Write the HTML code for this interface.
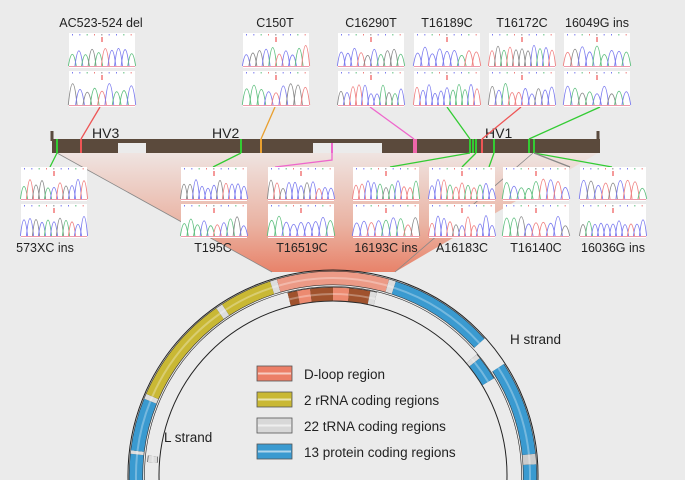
<!DOCTYPE html>
<html><head><meta charset="utf-8"><style>
html,body{margin:0;padding:0;background:#ebebeb;width:685px;height:480px;overflow:hidden;}
svg{display:block;}
text{font-family:"Liberation Sans",sans-serif;}
</style></head><body>
<svg id="s" width="685" height="480" viewBox="0 0 685 480" xmlns="http://www.w3.org/2000/svg">
<defs>
<linearGradient id="fun" x1="0" y1="0" x2="0" y2="1">
<stop offset="0" stop-color="#efe4e1"/><stop offset="0.6" stop-color="#eab3a3"/><stop offset="1" stop-color="#e8836a"/>
</linearGradient>
<clipPath id="cp"><rect width="685" height="480"/></clipPath>
</defs>
<rect width="685" height="480" fill="#ebebeb"/>
<polygon points="57,153 598,153 395,272 272,272" fill="url(#fun)"/>
<line x1="57" y1="153" x2="272" y2="272" stroke="#888" stroke-width="0.8"/>
<line x1="533" y1="153" x2="395" y2="272" stroke="#888" stroke-width="0.8"/>

<g fill="none" clip-path="url(#cp)">
<circle cx="333" cy="475" r="205" stroke="#222" stroke-width="1"/>
<circle cx="333" cy="475" r="174" stroke="#222" stroke-width="1"/>
<circle cx="333" cy="475" r="188.5" stroke="#222" stroke-width="0.6"/>
<g id="arcs"></g>
</g>

<line x1="52" y1="131" x2="52" y2="141" stroke="#5a4a3e" stroke-width="3"/>
<line x1="598" y1="131" x2="598" y2="141" stroke="#5a4a3e" stroke-width="3"/>
<rect x="52" y="139" width="548" height="14" fill="#5b4a3c"/>
<rect x="118" y="143" width="28" height="10" fill="#ebebeb"/>
<rect x="313" y="143" width="69" height="10" fill="#ebebeb"/>
<g stroke-width="2">
<line x1="57" y1="139" x2="57" y2="153" stroke="#3c3"/>
<line x1="81" y1="139" x2="81" y2="153" stroke="#e55"/>
<line x1="241" y1="139" x2="241" y2="153" stroke="#3c3"/>
<line x1="261" y1="139" x2="261" y2="153" stroke="#e9a030"/>
<line x1="332" y1="143" x2="332" y2="153" stroke="#e6c"/>
<line x1="415" y1="139" x2="415" y2="153" stroke="#e6a" stroke-width="4"/>
<line x1="470" y1="139" x2="470" y2="153" stroke="#3c3"/>
<line x1="473" y1="139" x2="473" y2="153" stroke="#3c3"/>
<line x1="476" y1="139" x2="476" y2="153" stroke="#3c3"/>
<line x1="482" y1="139" x2="482" y2="153" stroke="#e55"/>
<line x1="494" y1="139" x2="494" y2="153" stroke="#3c3"/>
<line x1="529" y1="139" x2="529" y2="153" stroke="#3c3"/>
<line x1="534" y1="139" x2="534" y2="153" stroke="#3c3"/>
</g>
<text x="92" y="138" font-size="14" fill="#222">HV3</text>
<text x="212" y="138" font-size="14" fill="#222">HV2</text>
<text x="485" y="138" font-size="14" fill="#222">HV1</text>

<g stroke-width="1.3" fill="none">
<line x1="100" y1="107" x2="81" y2="139" stroke="#e55"/>
<line x1="275" y1="107" x2="261" y2="139" stroke="#e9a030"/>
<line x1="370" y1="107" x2="414" y2="139" stroke="#e6c"/>
<line x1="447" y1="107" x2="470" y2="139" stroke="#3c3"/>
<line x1="521" y1="107" x2="482" y2="139" stroke="#e55"/>
<line x1="600" y1="107" x2="529" y2="139" stroke="#3c3"/>
<line x1="57" y1="153" x2="50" y2="167" stroke="#3c3"/>
<line x1="241" y1="153" x2="213" y2="167" stroke="#3c3"/>
<polyline points="332,153 332,160 275,167" stroke="#e6c"/>
<line x1="470" y1="153" x2="390" y2="167" stroke="#3c3"/>
<line x1="476" y1="153" x2="462" y2="167" stroke="#3c3"/>
<line x1="494" y1="153" x2="489" y2="167" stroke="#3c3"/>
<line x1="534" y1="153" x2="612" y2="167" stroke="#3c3"/>
<line x1="534" y1="153" x2="570" y2="167" stroke="#888"/>
</g>
<g id="chroms"></g>

<g font-size="12.5" fill="#222" text-anchor="middle">
<text x="101" y="27">AC523-524 del</text>
<text x="275" y="27">C150T</text>
<text x="371" y="27">C16290T</text>
<text x="447" y="27">T16189C</text>
<text x="522" y="27">T16172C</text>
<text x="597" y="27">16049G ins</text>
<text x="45" y="252">573XC ins</text>
<text x="213" y="252">T195C</text>
<text x="302" y="252">T16519C</text>
<text x="386" y="252">16193C ins</text>
<text x="462" y="252">A16183C</text>
<text x="536" y="252">T16140C</text>
<text x="613" y="252">16036G ins</text>
</g>

<g stroke="#555" stroke-width="0.8">
<rect x="257" y="366" width="35" height="15" fill="#ec7f67"/>
<rect x="257" y="392" width="35" height="15" fill="#c9b834"/>
<rect x="257" y="418" width="35" height="15" fill="#d8d8d8"/>
<rect x="257" y="444" width="35" height="15" fill="#3a9ad0"/>
</g>
<g stroke="#fff" stroke-opacity="0.6" stroke-width="2">
<line x1="258" y1="373.5" x2="291" y2="373.5"/><line x1="258" y1="399.5" x2="291" y2="399.5"/>
<line x1="258" y1="425.5" x2="291" y2="425.5"/><line x1="258" y1="451.5" x2="291" y2="451.5"/>
</g>
<g font-size="13.5" fill="#222">
<text x="304" y="379">D-loop region</text>
<text x="304" y="405">2 rRNA coding regions</text>
<text x="304" y="431">22 tRNA coding regions</text>
<text x="304" y="457">13 protein coding regions</text>
<text x="510" y="344">H strand</text>
<text x="164" y="442">L strand</text>
</g>
</svg>
<script>
(function(){
var NS="http://www.w3.org/2000/svg";
function el(p,t,a){var e=document.createElementNS(NS,t);for(var k in a)e.setAttribute(k,a[k]);p.appendChild(e);return e;}
var cx=333,cy=475;
function pt(r,a){var t=(a-90)*Math.PI/180;return [cx+r*Math.cos(t),cy+r*Math.sin(t)];}
function arc(r,a1,a2,col,w){var p1=pt(r,a1),p2=pt(r,a2);var g=document.getElementById('arcs');
var d='M'+p1[0]+' '+p1[1]+' A'+r+' '+r+' 0 0 1 '+p2[0]+' '+p2[1];
el(g,'path',{d:d,stroke:'#333','stroke-width':w+1.2,fill:'none'});
el(g,'path',{d:d,stroke:col,'stroke-width':w,fill:'none'});
el(g,'path',{d:d,stroke:'#fff','stroke-opacity':0.3,'stroke-width':2,fill:'none'});}
var RO=197,RI=181;
arc(RO,-112,-84,'#3a9ad0',13);
arc(RO,-84,-83,'#ddd',13);
arc(RO,-83,-68,'#3a9ad0',13);
arc(RO,-68,-66.5,'#ddd',13);
arc(RO,-66.5,-35,'#c9b834',13);
arc(RO,-35,-33,'#ddd',13);
arc(RO,-33,-18,'#c9b834',13);
arc(RO,-18,-16,'#ddd',13);
arc(RO,-16,16,'#ec9a86',13);
arc(RO,16,18,'#ddd',13);
arc(RO,18,48,'#3a9ad0',13);
arc(RI,50,51.5,'#ddd',13);
arc(RI,51.5,59,'#3a9ad0',13);
arc(RO,57,84,'#3a9ad0',13);
arc(RO,84,87,'#ccc',13);
arc(RO,87,112,'#3a9ad0',13);
arc(RI,-14,-11,'#a0522d',13);
arc(RI,-11,-7,'#ec8a70',13);
arc(RI,-7,0,'#a0522d',13);
arc(RI,0,5,'#ec8a70',13);
arc(RI,5,11.5,'#a0522d',13);
arc(RI,11.5,13.5,'#ddd',13);
arc(RI,-86,-84,'#ddd',9);
var cols=['#7b7bef','#7b7bef','#5fbf7f','#ef7f7f','#888'];
var seed=7;function rnd(){seed=(seed*9301+49297)%233280;return seed/233280;}
function panel(x,y,w,h){var g=document.getElementById('chroms');
el(g,'rect',{x:x,y:y,width:w,height:h,fill:'#fff'});
for(var i=0;i<9;i++)el(g,'rect',{x:x+3+i*w/9,y:y+1,width:1,height:1.5,fill:cols[i%5]});
el(g,'path',{d:'M'+(x+w/2)+' '+(y+4)+' v5',stroke:'#e55','stroke-width':1.2});
var n=9+Math.floor(rnd()*3),step=w/n;
for(var i=0;i<n;i++){var c=cols[Math.floor(rnd()*5)],ph=h*(0.3+rnd()*0.3),px=x+step*(i+0.5);
el(g,'path',{d:'M'+(px-step*0.6)+' '+(y+h-2)+' Q'+px+' '+(y+h-2-ph*2)+' '+(px+step*0.6)+' '+(y+h-2),stroke:c,'stroke-width':0.9,fill:'none'});}
el(g,'line',{x1:x,y1:y+h-1.5,x2:x+w,y2:y+h-1.5,stroke:'#e9a',"stroke-width":1});}
var top=[69,243,338,414,489,564];top.forEach(function(x){panel(x,33,66,35);panel(x,71,66,36);});
var bot=[21,181,268,353,429,503,580];bot.forEach(function(x){panel(x,167,66,34);panel(x,204,66,34);});
})();
</script>
</body></html>
